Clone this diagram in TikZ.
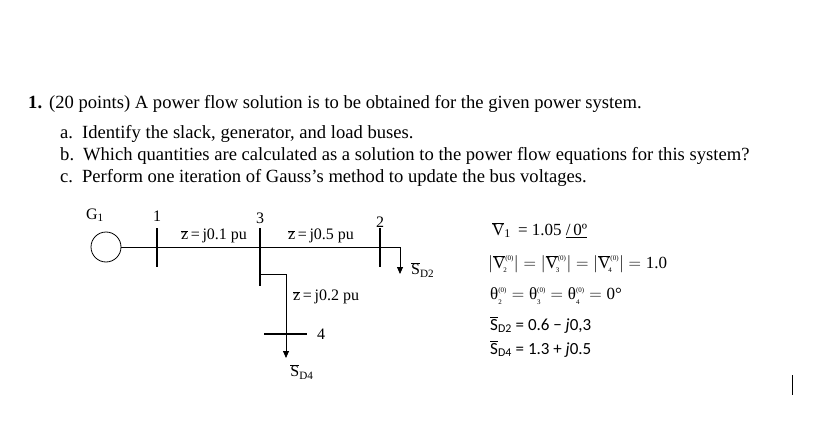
\documentclass[tikz,border=0pt]{standalone}
\usepackage{fontspec}
\setmainfont{Liberation Serif}
\newfontfamily\carlitofont{Carlito}
\usetikzlibrary{arrows.meta}
\begin{document}
\begin{tikzpicture}[x=1pt,y=-1pt,
  txt/.style={anchor=west,inner sep=0pt,font=\fontsize{18.6}{20}\selectfont},
  lbl/.style={inner sep=0pt,font=\fontsize{16}{18}\selectfont},
  eq/.style={anchor=west,inner sep=0pt,font=\fontsize{17}{19}\selectfont},
  wire/.style={line width=0.8pt},
  bus/.style={line width=2pt},
  load/.style={line width=0.8pt,-{Triangle[length=7pt,width=6pt]}}]
\useasboundingbox (0,0) rectangle (822,425);
\node[txt] (t1) at (28,104) {\textbf{1.}\hspace{7pt}(20 points) A power flow solution is to be obtained for the given power system.};
\node[txt] (ta) at (60,134) {a.\hspace{9pt}Identify the slack, generator, and load buses.};
\node[txt] (tb) at (60,156) {b.\hspace{9pt}Which quantities are calculated as a solution to the power flow equations for this system?};
\node[txt] (tc) at (60,178) {c.\hspace{9pt}Perform one iteration of Gauss’s method to update the bus voltages.};
% generator
\node[circle,draw,line width=0.8pt,minimum size=30pt,inner sep=0pt] (g) at (106,247) {};
\node[lbl] (gl) at (95,215) {G\textsubscript{1}};
\coordinate (b1t) at (157,228); \coordinate (b1b) at (157,267);
\coordinate (b3t) at (260,228); \coordinate (b3b) at (260,286);
\coordinate (b2t) at (380,228); \coordinate (b2b) at (380,267);
\draw[bus] (b1t) -- (b1b);
\draw[bus] (b3t) -- (b3b);
\draw[bus] (b2t) -- (b2b);
\coordinate (e2) at (400,247);
\coordinate (a2) at (400,274);
\draw[wire] (g.east) -- (e2);
\draw[load] (e2) -- (a2);
\coordinate (j3) at (260,274); \coordinate (c4) at (286,274);
\coordinate (a4) at (286,358);
\draw[wire] (j3) -- (c4);
\draw[load] (c4) -- (a4);
\coordinate (b4l) at (264,334); \coordinate (b4r) at (307,334);
\draw[bus] (b4l) -- (b4r);
\node[lbl] (n1) at (157,216) {1};
\node[lbl] (n3) at (260,218) {3};
\node[lbl] (n2) at (380,222) {2};
\node[lbl] (n4) at (321,334) {4};
\node[lbl] (z1) at (214,236) {$\overline{\mbox{z}}$\,=\,j0.1 pu};
\node[lbl] (z2) at (321,236) {$\overline{\mbox{z}}$\,=\,j0.5 pu};
\node[lbl,anchor=west] (z3) at (293,297) {$\overline{\mbox{z}}$\,=\,j0.2 pu};
\node[lbl,anchor=west] (s2) at (411,270) {$\overline{\mbox{S}}$\textsubscript{D2}};
\node[lbl] (s4) at (302,372) {$\overline{\mbox{S}}$\textsubscript{D4}};
% equations
\node[eq] (q1) at (492,230) {$\overline{\mbox{V}}$\textsubscript{1} \,= 1.05 \underline{/\,0º}};
\node[eq] (q2) at (488,264) {$|\overline{\mbox{V}}_{\!\mbox{\scriptsize 2}}^{\mbox{\scriptsize (0)}}|=|\overline{\mbox{V}}_{\!\mbox{\scriptsize 3}}^{\mbox{\scriptsize (0)}}|=|\overline{\mbox{V}}_{\!\mbox{\scriptsize 4}}^{\mbox{\scriptsize (0)}}|=\mbox{1.0}$};
\node[eq] (q3) at (490,296) {$\mbox{θ}_{\mbox{\scriptsize 2}}^{\mbox{\scriptsize (0)}}=\mbox{θ}_{\mbox{\scriptsize 3}}^{\mbox{\scriptsize (0)}}=\mbox{θ}_{\mbox{\scriptsize 4}}^{\mbox{\scriptsize (0)}}=\mbox{0°}$};
\node[eq] (q4) at (490,325) {\carlitofont $\overline{\mbox{S}}$\textsubscript{D2} = 0.6 − \textit{j}0,3};
\node[eq] (q5) at (490,349) {\carlitofont $\overline{\mbox{S}}$\textsubscript{D4} = 1.3 + \textit{j}0.5};
\coordinate (v1) at (792,375); \coordinate (v2) at (792,395);
\draw[line width=1pt] (v1) -- (v2);
\end{tikzpicture}
\end{document}
